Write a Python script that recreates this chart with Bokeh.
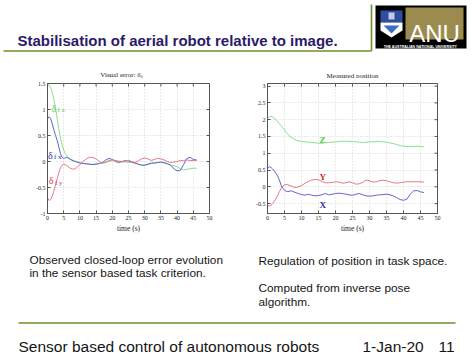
import math
from bokeh.plotting import figure
from bokeh.layouts import column, row
from bokeh.models import Range1d, Label, FixedTicker
from bokeh.core.properties import value
from bokeh.embed import file_html
from bokeh.resources import INLINE

# ---------------- data ----------------
t = [0, 0.5, 1, 1.5, 2, 2.5, 3, 3.5, 4, 4.5, 5, 5.5, 6, 7, 8, 9, 10, 11, 12, 13, 14, 15,
     16, 17, 18, 19, 20, 21, 22, 23, 24, 25, 26, 27, 28, 29, 30, 31, 32, 33, 34, 35, 36,
     37, 38, 39, 40, 41, 42, 43, 44, 45, 46]

# Visual error components
err_z = [1.48, 1.47, 1.42, 1.32, 1.18, 1.02, 0.82, 0.62, 0.45, 0.32, 0.22, 0.15, 0.10, 0.05,
         0.02, 0.00, -0.02, -0.04, -0.05, -0.06, -0.05, -0.05, -0.04, -0.03, -0.02, 0.00,
         0.02, 0.02, 0.01, 0.00, -0.01, -0.02, -0.02, -0.03, -0.05, -0.07, -0.08, -0.06,
         -0.04, -0.03, -0.02, -0.02, -0.03, -0.05, -0.07, -0.08, -0.10, -0.14, -0.16, -0.15,
         -0.14, -0.13, -0.13]
err_x = [0.82, 0.86, 0.82, 0.72, 0.60, 0.50, 0.40, 0.28, 0.15, 0.08, 0.06, 0.07, 0.08, 0.04,
         0.01, -0.01, -0.03, -0.04, -0.04, -0.05, -0.06, -0.05, -0.04, -0.02, 0.03, 0.06,
         0.04, 0.00, -0.02, 0.00, 0.02, 0.01, -0.01, -0.03, -0.05, -0.07, -0.07, -0.05,
         -0.03, -0.03, -0.02, -0.01, -0.02, -0.04, -0.07, -0.14, -0.18, -0.17, -0.06, 0.06,
         0.08, 0.04, 0.03]
err_y = [-0.70, -0.75, -0.73, -0.66, -0.56, -0.45, -0.33, -0.22, -0.12, -0.07, -0.05, -0.06,
         -0.08, -0.13, -0.15, -0.12, -0.06, 0.00, 0.05, 0.08, 0.08, 0.05, 0.00, -0.03, -0.01,
         0.02, 0.03, 0.02, 0.00, -0.01, 0.01, 0.02, 0.00, -0.02, 0.01, 0.05, 0.07, 0.05, 0.02,
         0.04, 0.06, 0.05, 0.03, 0.00, -0.02, -0.01, 0.00, 0.02, 0.02, 0.03, 0.02, 0.02, 0.02]

# Measured position
pos_z = [2.05, 2.08, 2.10, 2.08, 2.04, 2.00, 1.95, 1.88, 1.82, 1.76, 1.70, 1.62, 1.56, 1.47,
         1.41, 1.37, 1.35, 1.34, 1.33, 1.32, 1.31, 1.30, 1.30, 1.31, 1.32, 1.33, 1.34, 1.35,
         1.36, 1.36, 1.35, 1.35, 1.34, 1.33, 1.32, 1.33, 1.34, 1.34, 1.35, 1.35, 1.34, 1.33,
         1.31, 1.29, 1.26, 1.23, 1.21, 1.20, 1.20, 1.20, 1.21, 1.20, 1.19]
pos_y = [-0.55, -0.57, -0.55, -0.50, -0.43, -0.35, -0.25, -0.14, -0.05, 0.02, 0.06, 0.07,
         0.06, 0.02, -0.02, -0.01, 0.04, 0.10, 0.16, 0.20, 0.22, 0.21, 0.16, 0.12, 0.12, 0.13,
         0.15, 0.14, 0.11, 0.12, 0.15, 0.12, 0.08, 0.09, 0.13, 0.20, 0.18, 0.14, 0.15, 0.18,
         0.20, 0.18, 0.15, 0.12, 0.11, 0.12, 0.14, 0.15, 0.15, 0.15, 0.15, 0.15, 0.14]
pos_x = [0.55, 0.60, 0.58, 0.53, 0.47, 0.40, 0.32, 0.20, 0.05, -0.05, -0.10, -0.13, -0.14,
         -0.12, -0.16, -0.20, -0.23, -0.25, -0.22, -0.25, -0.27, -0.26, -0.24, -0.20, -0.24,
         -0.22, -0.20, -0.19, -0.20, -0.22, -0.24, -0.25, -0.22, -0.20, -0.24, -0.27, -0.28,
         -0.27, -0.25, -0.24, -0.23, -0.22, -0.24, -0.27, -0.32, -0.38, -0.40, -0.37, -0.22,
         -0.12, -0.11, -0.15, -0.17]

x_ticks = [0, 5, 10, 15, 20, 25, 30, 35, 40, 45, 50]
y_ticks_err = [-1, -0.5, 0, 0.5, 1, 1.5]
y_labels_err = ["-1", "-0.5", "0", "0.5", "1", "1.5"]
y_ticks_pos = [-0.5, 0, 0.5, 1, 1.5, 2, 2.5, 3]
y_labels_pos = ["-0.5", "0", "0.5", "1", "1.5", "2", "2.5", "3"]

GREEN = "#8ade8a"
RED = "#e27a84"
BLUE = "#6262d2"
OLIVE = "#6f8f2a"
AXC = "#555555"
SERIF = value("Liberation Serif")
SANS = value("Liberation Sans")


def blank(w, h, xr, yr):
    f = figure(width=w, height=h, x_range=Range1d(*xr), y_range=Range1d(*yr),
               output_backend="svg", toolbar_location=None,
               x_axis_location=None, y_axis_location=None,
               min_border=0, outline_line_color=None)
    f.grid.visible = False
    return f


def style_axes(p, yt, yl):
    p.outline_line_color = AXC
    p.xaxis.ticker = FixedTicker(ticks=x_ticks)
    p.yaxis.ticker = FixedTicker(ticks=yt)
    p.yaxis.major_label_overrides = {k: v for k, v in zip(yt, yl)}
    for ax in p.axis:
        ax.major_tick_in = 3
        ax.major_tick_out = 0
        ax.minor_tick_line_color = None
        ax.axis_line_color = AXC
        ax.major_tick_line_color = AXC
        ax.major_label_text_font = "Liberation Serif"
        ax.major_label_text_font_size = "6px"
        ax.major_label_text_color = "#222222"
        ax.major_label_standoff = 2
    p.xaxis.axis_label = "time (s)"
    p.xaxis.axis_label_text_font = "Liberation Serif"
    p.xaxis.axis_label_text_font_size = "7.5px"
    p.xaxis.axis_label_text_font_style = "normal"
    p.xaxis.axis_label_text_color = "#222222"
    p.xaxis.axis_label_standoff = 1
    p.grid.grid_line_color = "#d4d4d4"
    p.grid.grid_line_dash = "1 2"
    p.xgrid.ticker = FixedTicker(ticks=x_ticks)
    p.ygrid.ticker = FixedTicker(ticks=yt)
    # inward ticks on the top and right sides of the box
    xr, yr = p.x_range, p.y_range
    p.ray(x=x_ticks, y=[yr.end] * len(x_ticks), length=3, length_units="screen",
          angle=-math.pi / 2, line_color=AXC, line_width=1)
    p.ray(x=[xr.end] * len(yt), y=yt, length=3, length_units="screen",
          angle=math.pi, line_color=AXC, line_width=1)


def lab(p, x, y, text, color, size, dy=0, style="normal", align="left"):
    p.add_layout(Label(x=x, y=y, text=text, text_color=color, text_font="Liberation Serif",
                       text_font_size=size, text_font_style=style, y_offset=dy,
                       text_align=align, text_baseline="alphabetic"))


# ---------------- header (slide title + chart titles) ----------------
HEAD_H = 78
head = blank(474, HEAD_H, (0, 474), (HEAD_H, 0))
head.text(x=[17], y=[40], text=["Stabilisation of aerial robot relative to image."],
          text_font=SANS, text_font_style="bold", text_font_size="15px",
          text_color="#2b1b68", text_baseline="alphabetic")
head.line(x=[3, 371], y=[50.5, 50.5], line_color=OLIVE, line_width=1.6)
head.line(x=[371, 371], y=[4, 50.5], line_color=OLIVE, line_width=1.6)
head.quad(left=[375], right=[466], top=[5], bottom=[48], fill_color="black", line_color=None)
head.quad(left=[405], right=[463], top=[7], bottom=[39], fill_color="#9c8b4f", line_color=None)
head.quad(left=[380], right=[402], top=[10], bottom=[22], fill_color="#2c4f9e", line_color=None)
head.patch(x=[380, 402, 402, 391, 380], y=[22, 22, 30, 37, 30], fill_color="white", line_color=None)
head.patch(x=[383, 399, 391], y=[25, 25, 33], fill_color="#3d6fc0", line_color=None)
head.quad(left=[388], right=[394], top=[12], bottom=[19], fill_color="#c8c8e8", line_color=None)
head.text(x=[434], y=[33], text=["ANU"], text_font=SANS, text_font_size="24px",
          text_color="white", text_align="center", text_baseline="alphabetic")
head.text(x=[420], y=[46], text=["THE AUSTRALIAN NATIONAL UNIVERSITY"], text_font=SANS,
          text_font_style="bold", text_font_size="3.6px", text_color="white",
          text_align="center", text_baseline="alphabetic")
head.text(x=[140], y=[74.5], text=["Visual error: δ"], text_font=SERIF, text_font_size="7px",
          text_color="#222222", text_align="right", text_baseline="alphabetic")
head.text(x=[140.5], y=[76.3], text=["f"], text_font=SERIF, text_font_size="5px",
          text_color="#222222", text_baseline="alphabetic")
head.text(x=[352], y=[75], text=["Measured position"], text_font=SERIF, text_font_size="7px",
          text_color="#222222", text_align="center", text_baseline="alphabetic")

# ---------------- left plot ----------------
p1 = figure(width=237, height=240 - HEAD_H, x_range=Range1d(0, 50), y_range=Range1d(-1, 1.5),
            output_backend="svg", toolbar_location=None,
            min_border_left=47, min_border_right=28, min_border_top=83 - HEAD_H,
            min_border_bottom=27)
style_axes(p1, y_ticks_err, y_labels_err)
p1.line(t, err_z, line_color=GREEN, line_width=1)
p1.line(t, err_x, line_color=BLUE, line_width=1)
p1.line(t, err_y, line_color=RED, line_width=1)
lab(p1, 1.2, 1.02, "δ", "#5fcf5f", "10px")
lab(p1, 3.1, 1.02, "f z", "#5fcf5f", "7px", dy=-2)
lab(p1, 0.15, 0.12, "δ", "#3434b0", "10px")
lab(p1, 2.0, 0.12, "f x", "#3434b0", "7px", dy=-2)
lab(p1, 0.4, -0.37, "δ", "#d04a55", "10px")
lab(p1, 2.3, -0.37, "f y", "#d04a55", "7px", dy=-2)

# ---------------- right plot ----------------
p2 = figure(width=237, height=240 - HEAD_H, x_range=Range1d(0, 50),
            y_range=Range1d(-0.795, 3.078),
            output_backend="svg", toolbar_location=None,
            min_border_left=30, min_border_right=37, min_border_top=80 - HEAD_H,
            min_border_bottom=26)
style_axes(p2, y_ticks_pos, y_labels_pos)
p2.line(t, pos_z, line_color=GREEN, line_width=1)
p2.line(t, pos_y, line_color=RED, line_width=1)
p2.line(t, pos_x, line_color=BLUE, line_width=1)
lab(p2, 15.3, 1.40, "Z", "#4fc44f", "9px", style="bold")
lab(p2, 15.3, 0.283, "Y", "#cc3030", "9px", style="bold")
lab(p2, 15.3, -0.535, "X", "#2a2aa8", "9px", style="bold")

# ---------------- footer ----------------
foot = blank(474, 115, (0, 474), (355, 240))
body_x = [29, 29, 258, 258, 258]
body_y = [259, 272, 260, 287, 301]
body_t = ["Observed closed-loop error evolution", "in the sensor based task criterion.",
          "Regulation of position in task space.", "Computed from inverse pose", "algorithm."]
foot.text(x=body_x, y=body_y, text=body_t, text_font=SANS, text_font_size="11.8px",
          text_color="#151515", text_baseline="alphabetic")
foot.line(x=[18, 455], y=[322.5, 322.5], line_color=OLIVE, line_width=1.6)
foot.text(x=[18, 362, 438], y=[346, 346, 346],
          text=["Sensor based control of autonomous robots", "1-Jan-20", "11"],
          text_font=SANS, text_font_size="15.5px", text_color="#151515",
          text_baseline="alphabetic")

layout = column(head, row(p1, p2), foot)
open("out.html", "w").write(file_html(layout, INLINE))
